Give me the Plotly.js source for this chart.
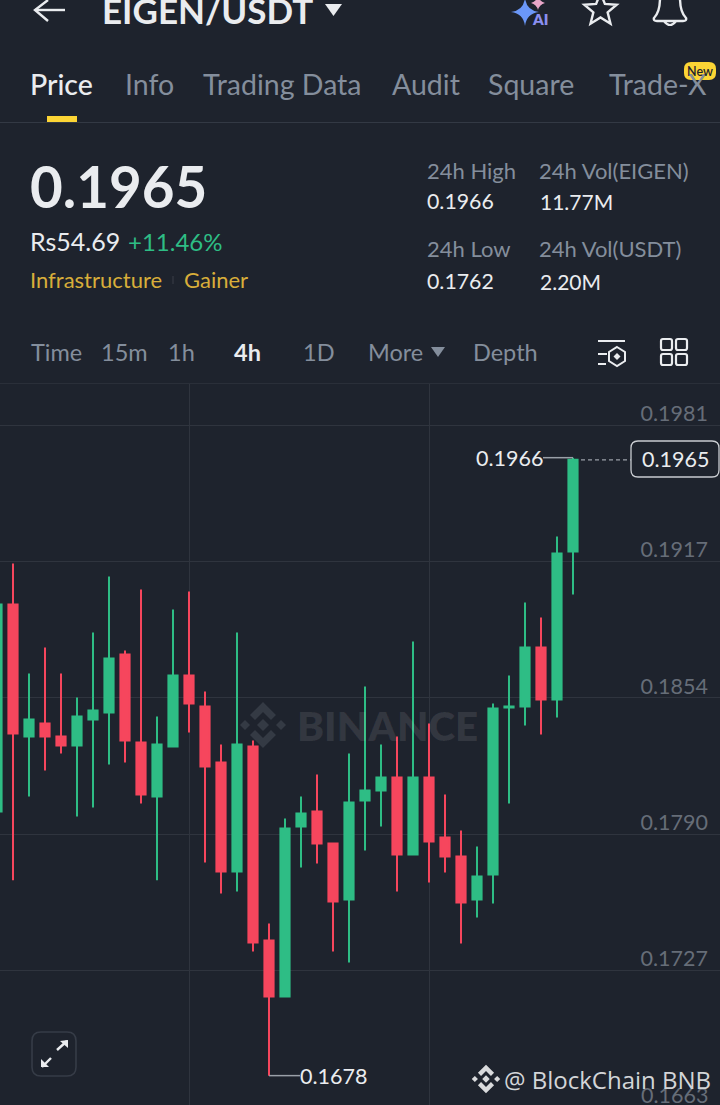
<!DOCTYPE html>
<html>
<head>
<meta charset="utf-8">
<script src="https://cdn.plot.ly/plotly-3.0.1.min.js"></script>
<style>html,body{margin:0;padding:0;background:#1e232d;overflow:hidden}</style>
</head>
<body>
<div id="chart" style="width:720px;height:1105px"></div>
<script>
const candleIndex = [-1,0,1,2,3,4,5,6,7,8,9,10,11,12,13,14,15,16,17,18,19,20,21,22,23,24,25,26,27,28,29,30,31,32,33,34,35];
const opens  = [0.18011,0.18976,0.18361,0.18421,0.18361,0.18319,0.18440,0.18472,0.18743,0.18333,0.18081,0.18314,0.18645,0.18500,0.18239,0.17731,0.18314,0.17410,0.17149,0.17941,0.18011,0.17862,0.17601,0.18062,0.18109,0.18170,0.17811,0.18170,0.17890,0.17801,0.17601,0.17717,0.18496,0.18500,0.18775,0.18533,0.19223];
const highs  = [0.18976,0.19167,0.18654,0.18775,0.18654,0.18542,0.18845,0.19106,0.18761,0.19046,0.18454,0.18952,0.19036,0.18570,0.18323,0.18845,0.18342,0.17489,0.17978,0.18081,0.18183,0.17862,0.18281,0.18593,0.18323,0.18361,0.18803,0.18421,0.18090,0.17923,0.17848,0.18514,0.18645,0.18985,0.18915,0.19293,0.1966];
const lows   = [0.18011,0.17690,0.18081,0.18202,0.18281,0.17988,0.18030,0.18230,0.18239,0.18048,0.17690,0.18314,0.18379,0.17773,0.17629,0.17638,0.17359,0.1678,0.17149,0.17750,0.17769,0.17359,0.17307,0.17829,0.17941,0.17638,0.17811,0.17680,0.17727,0.17396,0.17517,0.17582,0.18048,0.18412,0.18370,0.18449,0.19022];
const closes = [0.18976,0.18375,0.18440,0.18361,0.18319,0.18454,0.18482,0.18724,0.18342,0.18090,0.18323,0.18645,0.18514,0.18221,0.17731,0.18323,0.17401,0.17149,0.17932,0.18002,0.17862,0.17592,0.18053,0.18109,0.18170,0.17811,0.18170,0.17871,0.17801,0.17587,0.17708,0.18491,0.18500,0.18775,0.18533,0.19213,0.1965];
const priceTicks = [0.1981,0.19175,0.1854,0.17905,0.1727];
const priceTickLabels = ["0.1981","0.1917","0.1854","0.1790","0.1727"];
const timeGrid = [11,26];
const maxLabel = "0.1966", minLabel = "0.1678", lastLabel = "0.1965";

const BG='#1e232d', GREEN='#2ebd85', RED='#f6465d', GRID='#2f343e', MUTED='#848e9c', AXIS='#666d78', WHITE='#eaecef', YEL='#fcd535', TAG='#d8ae3a';
const FONT='Lato, sans-serif';
const W=720,H=1105;
const X=x=>(x/W).toFixed(5), Y=y=>(1-y/H).toFixed(5);
function poly(pts,close){return 'M'+pts.map(p=>X(p[0])+','+Y(p[1])).join(' L')+(close?' Z':'');}
const shapes=[], annotations=[];
function sh(path,opt){shapes.push(Object.assign({type:'path',xref:'paper',yref:'paper',path:path,line:{width:0}},opt));}
function fillP(pts,color,layer){sh(poly(pts,true),{fillcolor:color,layer:layer||'above'});}
function lineP(pts,color,w,close,dash){sh(poly(pts,close),{line:{color:color,width:w,dash:dash||'solid'},layer:'above'});}
function roundRect(x0,y0,x1,y1,r){
  return `M${X(x0+r)},${Y(y0)} L${X(x1-r)},${Y(y0)} Q${X(x1)},${Y(y0)} ${X(x1)},${Y(y0+r)} L${X(x1)},${Y(y1-r)} Q${X(x1)},${Y(y1)} ${X(x1-r)},${Y(y1)} L${X(x0+r)},${Y(y1)} Q${X(x0)},${Y(y1)} ${X(x0)},${Y(y1-r)} L${X(x0)},${Y(y0+r)} Q${X(x0)},${Y(y0)} ${X(x0+r)},${Y(y0)} Z`;
}
function txt(s,x,y,size,color,o){annotations.push(Object.assign({text:s,xref:'paper',yref:'paper',x:x/W,y:1-y/H,xanchor:'left',yanchor:'middle',showarrow:false,borderpad:0,font:{family:FONT,size:size,color:color}},o||{}));}
function logo(cx,cy,s,color,layer){
  const m=(a)=>a.map(p=>[cx+p[0]*s,cy+p[1]*s]);
  const top=[[0,-23],[13,-10],[8,-5],[0,-13],[-8,-5],[-13,-10]];
  fillP(m(top),color,layer);
  fillP(m(top.map(p=>[p[0],-p[1]])),color,layer);
  const d=(x,r)=>[[x,-r],[x+r,0],[x,r],[x-r,0]];
  fillP(m(d(0,6)),color,layer);fillP(m(d(-18,5)),color,layer);fillP(m(d(18,5)),color,layer);
}
function star(cx,cy,R,r){const o=[];for(let i=0;i<10;i++){const a=-Math.PI/2+i*Math.PI/5,q=i%2?r:R;o.push([cx+q*Math.cos(a),cy+q*Math.sin(a)]);}return o;}

// Header
lineP([[48,0],[35,10],[48,21]],WHITE,2.4);
lineP([[35,10],[65,10]],WHITE,2.4);
txt('EIGEN/USDT',101,10,35,WHITE,{font:{family:FONT,size:35,color:WHITE,weight:700}});
fillP([[325,4],[342,4],[333.5,16]],WHITE);
const sp=(cx,cy,rx,ry)=>`M${X(cx)},${Y(cy-ry)} Q${X(cx+1.5)},${Y(cy-1.5)} ${X(cx+rx)},${Y(cy)} Q${X(cx+1.5)},${Y(cy+1.5)} ${X(cx)},${Y(cy+ry)} Q${X(cx-1.5)},${Y(cy+1.5)} ${X(cx-rx)},${Y(cy)} Q${X(cx-1.5)},${Y(cy-1.5)} ${X(cx)},${Y(cy-ry)} Z`;
sh(sp(525,12,14,14),{fillcolor:'#6b97f7',layer:'above'});
sh(sp(538,3,7,7),{fillcolor:'#e8a6c8',layer:'above'});
txt('AI',531,19,15,'#8a8ff0',{font:{family:FONT,size:15,color:'#8a8ff0',weight:800}});
lineP(star(600.5,10,17,7.5),WHITE,2.4,true);
sh(`M${X(660)},${Y(-2)} C${X(660)},${Y(8)} ${X(658)},${Y(14)} ${X(654)},${Y(18)} Q${X(653)},${Y(21)} ${X(657)},${Y(21)} L${X(683)},${Y(21)} Q${X(687)},${Y(21)} ${X(686)},${Y(18)} C${X(682)},${Y(14)} ${X(680)},${Y(8)} ${X(680)},${Y(-2)}`,{line:{color:WHITE,width:2.4},layer:'above'});
sh(`M${X(664)},${Y(21)} Q${X(670)},${Y(29)} ${X(676)},${Y(21)}`,{line:{color:WHITE,width:2.2},layer:'above'});

// Tabs
const tabs=[['Price',29,WHITE],['Info',124,MUTED],['Trading Data',202,MUTED],['Audit',391,MUTED],['Square',487,MUTED],['Trade-X',608,MUTED]];
tabs.forEach(t=>txt(t[0],t[1],84,28.5,t[2],{font:{family:FONT,size:28.5,color:t[2],weight:t[0]==='Price'?500:400}}));
sh(roundRect(684,62,716,80,7),{fillcolor:YEL,layer:'above'});
txt('New',700,71,12.5,'#1e232d',{xanchor:'center',font:{family:FONT,size:12.5,color:'#1e232d',weight:600}});
fillP([[47,116],[77,116],[77,122],[47,122]],YEL);
lineP([[0,122.5],[720,122.5]],'#333944',1);

// Price panel
txt('0.1965',29,186,56.5,WHITE,{font:{family:FONT,size:56.5,color:WHITE,weight:700}});
txt('Rs54.69',29,241,25,WHITE);
txt('+11.46%',127,241,24,GREEN);
txt('Infrastructure',29,279,22,TAG);
txt('Gainer',183,279,22,TAG);
lineP([[173,276],[173,284]],'#3a3f49',1);
[['24h High',426,170,MUTED,22],['0.1966',426,201,WHITE,21.3],['24h Vol(EIGEN)',538,170,MUTED,22],['11.77M',539,201,WHITE,21],
 ['24h Low',426,249,MUTED,22],['0.1762',426,281,WHITE,21.3],['24h Vol(USDT)',538,249,MUTED,22],['2.20M',539,281,WHITE,21]]
 .forEach(t=>txt(t[0],t[1],t[2],t[4],t[3]));

// Interval row
[['Time',30],['15m',100],['1h',167],['1D',302],['More',367],['Depth',472]].forEach(t=>txt(t[0],t[1],352,23.5,MUTED));
txt('4h',233,352,23.5,WHITE,{font:{family:FONT,size:23.5,color:WHITE,weight:700}});
fillP([[431,347],[445,347],[438,357]],MUTED);
lineP([[598,341],[625,341]],WHITE,2);
lineP([[598,354],[607,354]],WHITE,2);
lineP([[598,364],[606,364]],WHITE,2);
lineP([[617,347],[625,352],[625,361],[617,366],[609,361],[609,352]],WHITE,2,true);
fillP([[617,353],[620.5,356.5],[617,360],[613.5,356.5]],WHITE);
[[661,339],[676,339],[661,354],[676,354]].forEach(p=>sh(roundRect(p[0],p[1],p[0]+11,p[1]+11,2),{line:{color:WHITE,width:2.2},layer:'above'}));
lineP([[0,383.5],[720,383.5]],'#2a2f39',1);

// Watermark (under candles)
logo(263,725,1,'#343a44','below');
txt('BINANCE',296,725,40.5,'rgba(255,255,255,0.09)',{font:{family:FONT,size:40.5,color:'rgba(255,255,255,0.09)',weight:800}});

// Price markers
annotations.push({text:maxLabel,xref:'x',yref:'y',x:33,y:0.1966,xanchor:'right',yanchor:'middle',showarrow:false,borderpad:0,xshift:3,font:{family:FONT,size:21.5,color:WHITE}});
annotations.push({text:minLabel,xref:'x',yref:'y',x:16,y:0.1678,xanchor:'left',yanchor:'middle',showarrow:false,borderpad:0,xshift:30,font:{family:FONT,size:21.5,color:WHITE}});
shapes.push({type:'line',xref:'paper',yref:'y',x0:543/W,x1:573/W,y0:0.1966,y1:0.1966,line:{color:'#9aa0a8',width:1.5},layer:'above'});
shapes.push({type:'line',xref:'paper',yref:'y',x0:269/W,x1:300/W,y0:0.1678,y1:0.1678,line:{color:'#9aa0a8',width:1.5},layer:'above'});
shapes.push({type:'line',xref:'paper',yref:'y',x0:581/W,x1:631/W,y0:0.1965,y1:0.1965,line:{color:'#9aa0a8',width:1.4,dash:'4px,3px'},layer:'above'});
sh(roundRect(631,441,719,477,7),{fillcolor:BG,line:{color:'#c9ccd1',width:1.3},layer:'above'});
txt(lastLabel,675,459,21.5,WHITE,{xanchor:'center'});
txt('0.1663',709,1095,21.5,AXIS,{xanchor:'right'});

// Expand button
sh(roundRect(32,1032,76,1076,9),{line:{color:'#363c47',width:1.6},layer:'above'});
lineP([[57,1050],[67,1041]],WHITE,2.4);
fillP([[60,1041],[68,1040],[68,1048]],WHITE);
lineP([[51,1058],[42,1067]],WHITE,2.4);
fillP([[41,1059],[41,1067],[49,1067]],WHITE);

// Source mark
logo(486,1079,0.62,'#d9dadc');
txt('@ BlockChain BNB',503,1079,24,'#d3d5d8',{font:{family:'"Open Sans", sans-serif',size:24,color:'#d3d5d8'}});

const trace={
  type:'candlestick',x:candleIndex,open:opens,high:highs,low:lows,close:closes,
  increasing:{line:{color:GREEN,width:2},fillcolor:GREEN},
  decreasing:{line:{color:RED,width:2},fillcolor:RED},
  whiskerwidth:0,hoverinfo:'skip',showlegend:false
};
const layout={
  width:W,height:H,margin:{l:0,r:0,t:0,b:0,pad:0},
  paper_bgcolor:BG,plot_bgcolor:BG,showlegend:false,boxgap:0.18,
  font:{family:FONT},
  xaxis:{domain:[0,1],range:[-0.8125,44.1875],rangeslider:{visible:false},tickmode:'array',tickvals:timeGrid,showticklabels:false,ticklen:0,showgrid:true,gridcolor:GRID,gridwidth:1,zeroline:false,showline:false},
  yaxis:{domain:[0,1-384/H],range:[0.166431,0.200034],side:'right',tickmode:'array',tickvals:priceTicks,ticktext:priceTickLabels,ticks:'',ticklabelposition:'inside',ticklabelstandoff:9,ticklabelshift:-12,tickfont:{family:FONT,size:21.5,color:AXIS},showgrid:true,gridcolor:GRID,gridwidth:1,zeroline:false,showline:false},
  shapes:shapes,annotations:annotations
};
Plotly.newPlot('chart',[trace],layout,{displayModeBar:false,staticPlot:true});
</script>
</body>
</html>
